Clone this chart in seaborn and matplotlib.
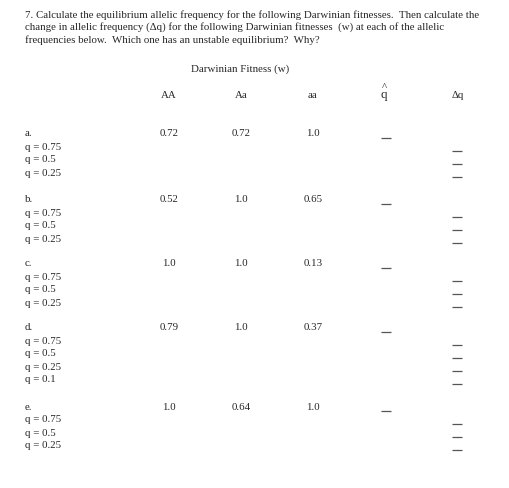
import matplotlib.pyplot as plt
import seaborn as sns

sns.set_style("white")
plt.rcParams['font.family'] = ['Liberation Serif', 'DejaVu Serif']

# 题目文字
question = [
    "7. Calculate the equilibrium allelic frequency for the following Darwinian fitnesses.  Then calculate the",
    "change in allelic frequency (\u0394q) for the following Darwinian fitnesses  (w) at each of the allelic",
    "frequencies below.  Which one has an unstable equilibrium?  Why?",
]
genotypes = ["AA", "Aa", "aa"]
cases = ["a.", "b.", "c.", "d.", "e."]
fit_AA = ["0.72", "0.52", "1.0", "0.79", "1.0"]
fit_Aa = ["0.72", "1.0", "1.0", "1.0", "0.64"]
fit_aa = ["1.0", "0.65", "0.13", "0.37", "1.0"]
q_values = [
    ["0.75", "0.5", "0.25"],
    ["0.75", "0.5", "0.25"],
    ["0.75", "0.5", "0.25"],
    ["0.75", "0.5", "0.25", "0.1"],
    ["0.75", "0.5", "0.25"],
]
case_y = [134, 200, 264, 328, 407]

fig = plt.figure(figsize=(5.09, 4.88), dpi=100)
ax = fig.add_axes([0, 0, 1, 1])
ax.set_xlim(0, 509)
ax.set_ylim(488, 0)
ax.axis('off')

fs = 7.8
for i, line in enumerate(question):
    ax.text(25, 15 + 12.5 * i, line, fontsize=fs, va='center', ha='left')

ax.text(240, 69, "Darwinian Fitness (w)", fontsize=fs, ha='center', va='center')
col_x = [169, 241, 313]
for x, g in zip(col_x, genotypes):
    ax.text(x, 96, g, fontsize=fs, ha='center', va='center')
ax.text(384, 95, "q", fontsize=fs + 1.5, ha='center', va='center')
ax.text(384, 87, "^", fontsize=fs, ha='center', va='center')
ax.text(458, 96, "\u0394q", fontsize=fs, ha='center', va='center')

for c, y, vals, qs in zip(cases, case_y, zip(fit_AA, fit_Aa, fit_aa), q_values):
    ax.text(25, y, c, fontsize=fs, va='center', ha='left')
    for x, v in zip(col_x, vals):
        ax.text(x, y, v, fontsize=fs, ha='center', va='center')
    ax.hlines(y + 4, 381, 391, color='#555555', lw=0.9)
    for j, q in enumerate(qs):
        yy = y + 13 * (j + 1)
        ax.text(25, yy, f"q = {q}", fontsize=fs, va='center', ha='left')
        ax.hlines(yy + 4, 452, 462, color='#555555', lw=0.9)

plt.savefig('out.png', dpi=100)
